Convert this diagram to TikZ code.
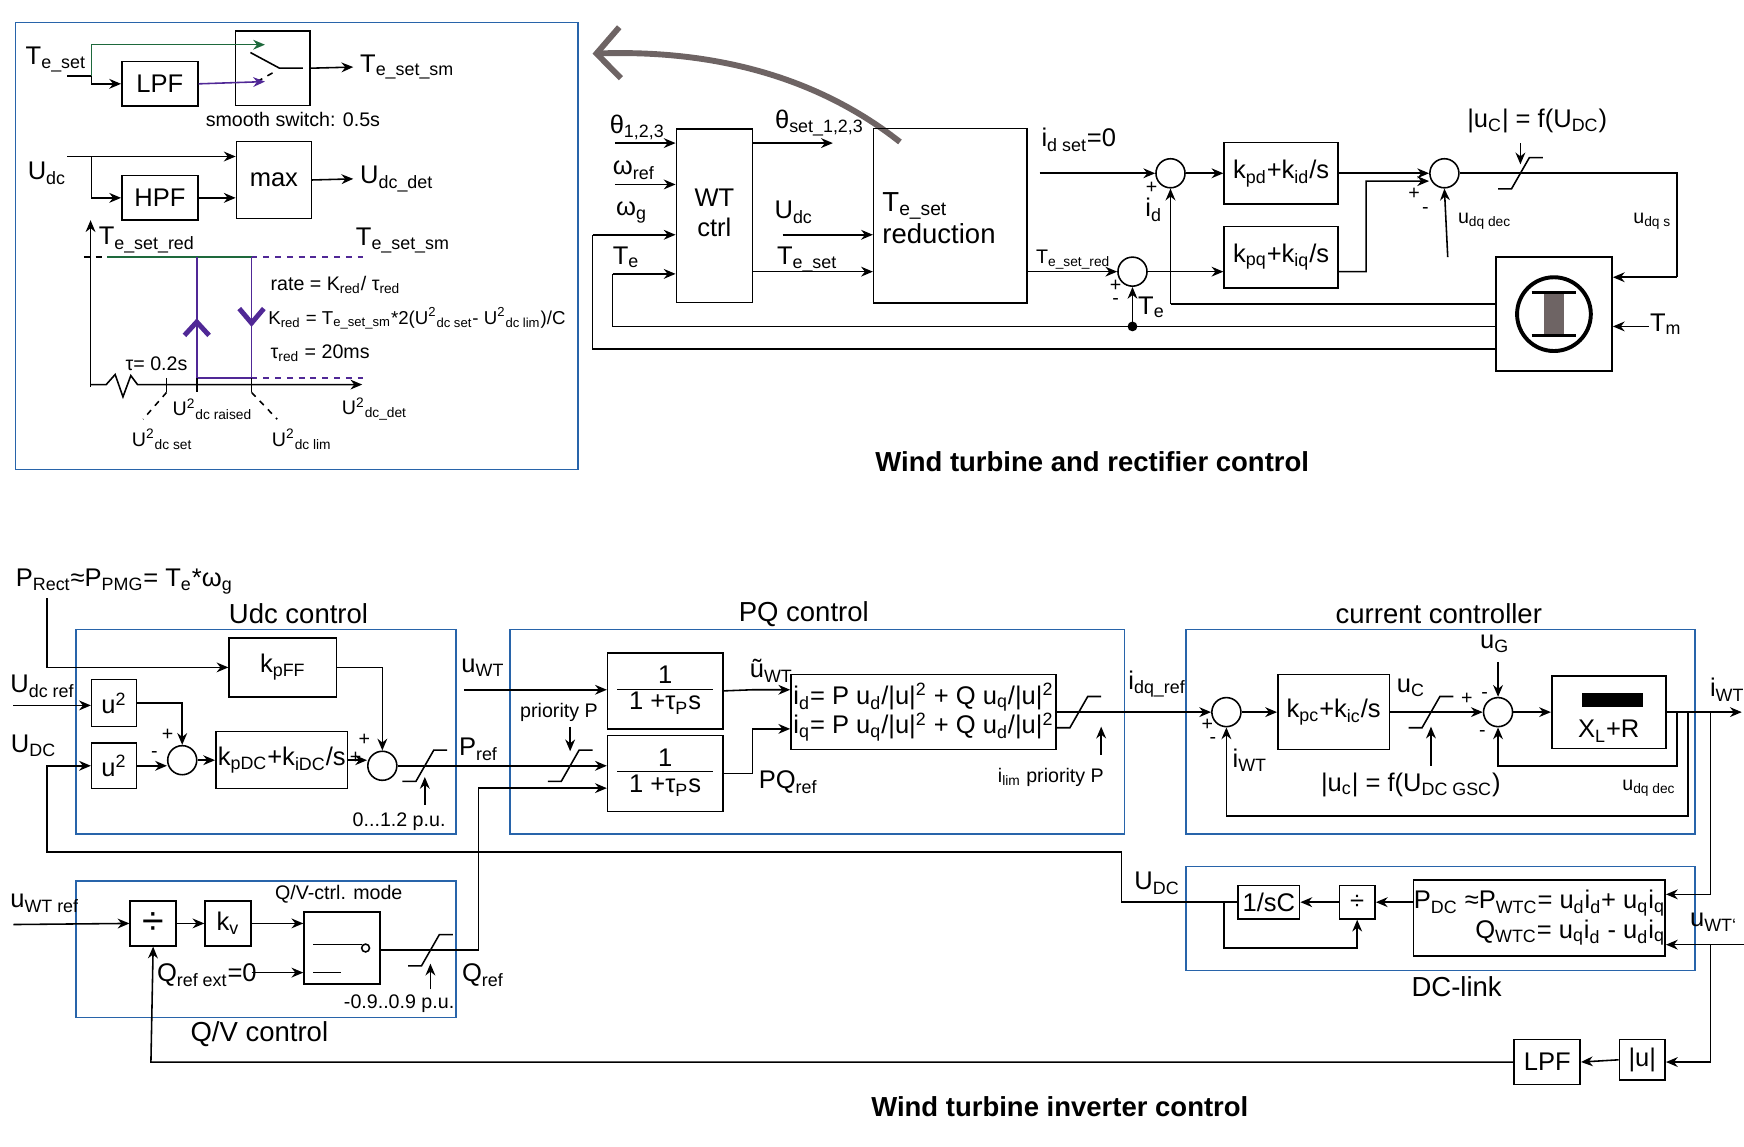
\documentclass[tikz,border=0pt]{standalone}
\usepackage{fontspec}
\setmainfont{Liberation Sans}
\usetikzlibrary{positioning,arrows.meta}
\definecolor{frameblue}{RGB}{40,100,170}
\definecolor{setgreen}{RGB}{30,105,60}
\definecolor{redpurple}{RGB}{80,40,150}
\definecolor{bigarrow}{RGB}{110,100,100}
\newcommand{\sub}[1]{\textsubscript{#1}}
\newcommand{\sups}[1]{\textsuperscript{#1}}
\begin{document}
\begin{tikzpicture}
        [x=0.02cm,y=-0.02cm,
        font=\fontsize{13}{15}\selectfont,
        box/.style 2 args={draw,thick,minimum width=#1*0.02cm,minimum height=#2*0.02cm,inner sep=1pt},
        sum/.style={draw,thick,circle,minimum size=0.52cm,inner sep=0pt},
        frame/.style={draw=frameblue,thick},
        line/.style={thick},
        arr/.style={thick,-{Stealth[length=6pt,width=5pt]}},
        small/.style={font=\fontsize{10}{12}\selectfont,inner sep=1pt},
        title/.style={font=\fontsize{14}{16}\selectfont\bfseries},
        head/.style={font=\fontsize{14}{16}\selectfont},
        sat/.pic={\draw[line] (-20,14) -- (-8,14) -- (8,-14) -- (20,-14);}]
        \useasboundingbox (0,0) rectangle (1560,1026);
        % ---------- smoothing and reduction of the torque set point
        \draw[frame] (14,20) rectangle (517,420);
        \node (tes) at (50,53) {T\sub{e\_set}};
        \node[box={68}{40}] (lpf) at (143,75) {LPF};
        \node[box={67}{67}] (sw) at (244,61) {};
        \draw[line] (224,47) -- (250,61) -- (271,61);
        \draw[line,dashed] (230,73) -- (246,64);
        \coordinate (j1) at (82,68);
        \draw[line] (60,68) -- (j1);
        \draw[arr] (j1) |- (lpf.west);
        \draw[arr,setgreen] (j1) |- (237,40);
        \draw[arr,redpurple] (lpf.east) -- (237,73);
        \node[anchor=west] (tesm) at (316,60) {T\sub{e\_set\_sm}};
        \draw[arr] (sw.east) -- (tesm.west);
        \node[small] (smsw) at (262,107) {smooth switch: 0.5s};
        \node (udc1) at (42,155) {U\sub{dc}};
        \node[box={68}{40}] (hpf) at (143,177) {HPF};
        \node[box={67}{69}] (mx) at (245,161) {max};
        \coordinate (j2) at (82,140);
        \draw[line] (60,140) -- (j2);
        \draw[arr] (j2) -- (mx.west |- j2);
        \draw[arr] (j2) |- (hpf.west);
        \draw[arr] (hpf.east) -- (mx.west |- hpf.east);
        \node[anchor=west] (udcd) at (316,160) {U\sub{dc\_det}};
        \draw[arr] (mx.east) -- (udcd.west);
        % reduction graph
        \draw[arr] (81,346) -- (81,197);
        \draw[arr] (81,344) -- (95,344) -- (103,335) -- (110,355) -- (117,336) -- (123,344) -- (324,344);
        \draw[line,dashed] (75,230) -- (96,230);
        \draw[line,setgreen] (96,230) -- (225,230);
        \draw[line,redpurple,dashed] (225,230) -- (326,230);
        \draw[line,redpurple] (176,230) -- (176,338) -- (225,338);
        \draw[line,redpurple] (225,230) -- (225,338);
        \draw[line,redpurple,dashed] (225,338) -- (326,338);
        \draw[redpurple,line width=2.5pt] (165,300) -- (176,288) -- (187,300);
        \draw[redpurple,line width=2.5pt] (214,276) -- (225,289) -- (236,276);
        \foreach \tx in {149,176,225} \draw[line] (\tx,338) -- (\tx,351);
        \draw[line,dashed] (149,351) -- (128,375);
        \draw[line,dashed] (225,351) -- (248,375);
        \node[anchor=west,inner sep=0pt] (lred) at (88,215) {T\sub{e\_set\_red}};
        \node[anchor=west,inner sep=0pt] (lsm) at (318,215) {T\sub{e\_set\_sm}};
        \node[small,anchor=west] (rate) at (240,255) {rate = K\sub{red}/ τ\sub{red}};
        \node[small,anchor=west,font=\fontsize{9.5}{11}\selectfont] (kred) at (238,285) {K\sub{red} = T\sub{e\_set\_sm}*2(U\sups{2}\sub{dc set}- U\sups{2}\sub{dc lim})/C};
        \node[small,anchor=west] (tred) at (240,316) {τ\sub{red} = 20ms};
        \node[small] (tau) at (140,325) {τ= 0.2s};
        \node[small] (uraised) at (190,366) {U\sups{2}\sub{dc raised}};
        \node[small] (uset) at (145,393) {U\sups{2}\sub{dc set}};
        \node[small] (ulim) at (270,393) {U\sups{2}\sub{dc lim}};
        \node[small] (udet) at (335,366) {U\sups{2}\sub{dc\_det}};
        % ---------- wind turbine and rectifier control
        \draw[bigarrow,line width=3pt,-{Straight Barb[length=12pt,width=26pt]}] (805,127) .. controls (720,60) and (620,45) .. (530,48);
        \node[box={68}{155}] (wt) at (639,193) {\begin{tabular}{c}WT\\ctrl\end{tabular}};
        \node[box={137}{156}] (red) at (850,193) {};
        \node[anchor=north west,head,align=left,inner sep=0pt] (redt) at (789,172) {T\sub{e\_set}\\reduction};
        \node (th) at (570,114) {θ\sub{1,2,3}};
        \node (wr) at (567,152) {ω\sub{ref}};
        \node (wg) at (565,190) {ω\sub{g}};
        \node (te1) at (560,230) {T\sub{e}};
        \draw[arr] (550,128) -- (wt.west |- 0,128);
        \draw[arr] (550,165) -- (wt.west |- 0,165);
        \draw[arr] (530,210) -- (wt.west |- 0,210);
        \draw[arr] (548,245) -- (wt.west |- 0,245);
        \draw[arr] (wt.east |- 0,128) -- (745,128);
        \node (ths) at (733,110) {θ\sub{set\_1,2,3}};
        \node (udc2) at (710,190) {U\sub{dc}};
        \draw[arr] (700,210) -- (red.west |- 0,210);
        \node (tes2) at (722,232) {T\sub{e\_set}};
        \draw[arr] (wt.east |- 0,243) -- (red.west |- 0,243);
        \node[sum] (s1) at (1013,243) {};
        \node[sum] (s2) at (1047,155) {};
        \node[sum] (s3) at (1292,155) {};
        \node[small] (tesr) at (960,232) {T\sub{e\_set\_red}};
        \draw[arr] (red.east |- s1) -- (s1.west);
        \node (ids) at (965,125) {i\sub{d set}=0};
        \draw[arr] (930,155) -- (s2.west);
        \node[box={102}{55}] (pid) at (1146,155) {k\sub{pd}+k\sub{id}/s};
        \node[box={102}{55}] (piq) at (1146,230) {k\sub{pq}+k\sub{iq}/s};
        \draw[arr] (s2.east) -- (pid.west);
        \draw[arr] (s1.east) -- (piq.west |- s1);
        \draw[arr] (pid.east) -- (s3.west);
        \draw[arr] (piq.east |- s1) -- (1222,243) -- (1222,162) -- ([yshift=-0.14cm]s3.west);
        \node[box={104}{102}] (pmg) at (1390,281) {};
        \draw[line width=2pt] (pmg.center) circle[radius=0.66cm];
        \fill[bigarrow] (1381,262) rectangle (1399,300);
        \draw[line width=1.5pt] (1370,262) -- (1410,262) (1370,300) -- (1410,300);
        \draw[arr] (1047,272) -- (s2.south);
        \draw[line] (pmg.west |- 0,272) -- (1047,272);
        \coordinate (jte) at (1013,292);
        \fill (jte) circle[radius=2.5pt];
        \draw[arr] (jte) -- (s1.south);
        \draw[line] (pmg.west |- jte) -- (548,292) -- (548,245);
        \draw[line] (pmg.west |- 0,312) -- (530,312) -- (530,210);
        \draw[arr] (1295,230) -- (s3.south);
        \pic at (1360,155) {sat};
        \draw[line] (s3.east) -- (1500,155) -- (1500,248);
        \draw[arr] (1500,248) -- (pmg.east |- 0,248);
        \draw[arr] (1360,128) -- (1360,147);
        \node (uc1) at (1375,108) {|u\sub{C}| = f(U\sub{DC})};
        \node[small] at (1030,168) {+};
        \node (idl) at (1032,188) {i\sub{d}};
        \node[small] at (998,256) {+};
        \node[small] at (998,270) {-};
        \node[inner sep=1pt] (te2) at (1030,275) {T\sub{e}};
        \node[small] at (1265,173) {+};
        \node[small] at (1275,188) {-};
        \node[small] (udqd1) at (1328,198) {u\sub{dq dec}};
        \node[small] (udqs) at (1478,198) {u\sub{dq s}};
        \node (tm) at (1490,290) {T\sub{m}};
        \draw[arr] (1475,292) -- (pmg.east |- 0,292);
        \node[title] at (977,413) {Wind turbine and rectifier control};
        % ---------- Udc control
        \draw[frame] (68,563) rectangle (408,746);
        \node[head] at (267,549) {Udc control};
        \node[anchor=west] (prect) at (8,520) {P\sub{Rect}≈P\sub{PMG}= T\sub{e}*ω\sub{g}};
        \node[box={96}{53}] (kff) at (253,597) {k\sub{pFF}};
        \draw[arr] (42,535) -- (42,597) -- (kff.west);
        \node[box={40}{42}] (sq1) at (102,629) {u\sups{2}};
        \node[box={40}{41}] (sq2) at (102,685) {u\sups{2}};
        \node (udcr) at (38,614) {U\sub{dc ref}};
        \node (udcb) at (30,667) {U\sub{DC}};
        \draw[arr] (12,631) -- (sq1.west |- 0,631);
        \node[sum] (s4) at (163,680) {};
        \node[sum] (s5) at (342,685) {};
        \draw[arr] (sq1.east) -| (s4.north);
        \draw[arr] (sq2.east) -- (s4.west |- sq2.east);
        \node[box={95}{51}] (pidc) at (252,680) {k\sub{pDC}+k\sub{iDC}/s};
        \draw[arr] (s4.east) -- (pidc.west);
        \draw[arr] (pidc.east) -- (s5.west |- pidc.east);
        \draw[arr] (kff.east) -| (s5.north);
        \node[small] at (150,657) {+};
        \node[small] at (138,675) {-};
        \node[small] at (326,662) {+};
        \node[small] at (318,678) {+};
        \pic at (380,685) {sat};
        \draw[arr] (380,720) -- (380,695);
        \node[small] (r1) at (357,735) {0...1.2 p.u.};
        \node (pref) at (428,670) {P\sub{ref}};
        % ---------- PQ control
        \draw[frame] (456,563) rectangle (1006,746);
        \node[head] at (719,549) {PQ control};
        \node[box={103}{68}] (lp1) at (595,618) {\begin{tabular}{c}1\\[-2pt]\hline 1 +τ\sub{P}s\end{tabular}};
        \node[box={103}{68}] (lp2) at (595,692) {\begin{tabular}{c}1\\[-2pt]\hline 1 +τ\sub{P}s\end{tabular}};
        \node (uwt) at (432,597) {u\sub{WT}};
        \draw[arr] (415,617) -- (lp1.west |- 0,617);
        \draw[arr] (s5.east) -- (lp2.west |- s5.east);
        \pic at (510,685) {sat};
        \draw[arr] (510,650) -- (510,672);
        \node[small] (prio1) at (500,637) {priority P};
        \node[box={237}{67}] (frm) at (826,637) {};
        \node[align=left,inner sep=0pt] (frmt) at (826,637) {i\sub{d}= P u\sub{d}/|u|\sups{2} + Q u\sub{q}/|u|\sups{2}\\i\sub{q}= P u\sub{q}/|u|\sups{2} + Q u\sub{d}/|u|\sups{2}};
        \draw[arr] (lp1.east) -- (673,617) -- (frm.west |- 0,617);
        \draw[arr] (lp2.east) -- (673,692) -- (673,652) -- (frm.west |- 0,652);
        \node (uwtt) at (690,600) {\~{u}\sub{WT}};
        \node (pqr) at (705,700) {PQ\sub{ref}};
        \pic at (965,637) {sat};
        \draw[arr] (985,675) -- (985,650);
        \node[small] (ilim) at (940,695) {i\sub{lim} priority P};
        \node (idq) at (1035,612) {i\sub{dq\_ref}};
        % ---------- current controller
        \draw[frame] (1061,563) rectangle (1516,746);
        \node[head] at (1287,549) {current controller};
        \node[sum] (s6) at (1097,637) {};
        \node[sum] (s7) at (1340,637) {};
        \draw[arr] (frm.east) -- (s6.west);
        \node[box={100}{67}] (pic) at (1193,637) {k\sub{pc}+k\sub{ic}/s};
        \draw[arr] (s6.east) -- (pic.west);
        \pic at (1280,637) {sat};
        \draw[arr] (pic.east) -- (s7.west);
        \draw[arr] (1280,685) -- (1280,650);
        \node (ucl) at (1262,615) {u\sub{C}};
        \node (ucf) at (1262,702) {|u\sub{c}| = f(U\sub{DC GSC})};
        \node (ug) at (1337,576) {u\sub{G}};
        \draw[arr] (1340,592) -- (s7.north);
        \node[box={102}{65}] (xlr) at (1439,637) {};
        \fill (1415,620) rectangle (1470,632);
        \node (xlrt) at (1439,654) {X\sub{L}+R};
        \draw[arr] (s7.east) -- (xlr.west);
        \draw[line] (xlr.east) -- (1530,637);
        \draw[arr] (1530,637) -- (1558,637);
        \node (iwt1) at (1545,617) {i\sub{WT}};
        \draw[arr] (1500,637) -- (1500,685) -- (1340,685) -- (s7.south);
        \draw[arr] (1510,637) -- (1510,730) -- (1097,730) -- (s6.south);
        \node (iwt2) at (1118,680) {i\sub{WT}};
        \node[small] at (1080,648) {+};
        \node[small] at (1085,662) {-};
        \node[small] at (1312,625) {+};
        \node[small] at (1328,622) {-};
        \node[small] at (1326,656) {-};
        \node[small] (udqd2) at (1475,705) {u\sub{dq dec}};
        % ---------- DC-link
        \draw[frame] (1061,775) rectangle (1516,868);
        \node[head] at (1303,883) {DC-link};
        \node[box={55}{30}] (isc) at (1135,807) {1/sC};
        \node[box={32}{30}] (dv1) at (1214,807) {÷};
        \node[box={225}{68}] (pdc) at (1377,821) {};
        \node[align=right,inner sep=0pt] (pdct) at (1377,821) {P\sub{DC} ≈P\sub{WTC}= u\sub{d}i\sub{d}+ u\sub{q}i\sub{q}\\Q\sub{WTC}= u\sub{q}i\sub{d} - u\sub{d}i\sub{q}};
        \draw[arr] (pdc.west |- dv1) -- (dv1.east);
        \draw[arr] (dv1.west) -- (isc.east);
        \draw[arr] (1095,807) -- (1095,848) -- (1214,848) -- (dv1.south);
        \draw[arr] (1530,637) -- (1530,800) -- (pdc.east |- 0,800);
        \draw[arr] (1560,845) -- (pdc.east |- 0,845);
        \node[anchor=east] (uwt2) at (1560,825) {u\sub{WT`}};
        \node (udc3) at (1035,790) {U\sub{DC}};
        \draw[arr] (isc.west) -- (1003,807) -- (1003,762) -- (42,762) -- (42,685) -- (sq2.west);
        % ---------- Q/V control
        \draw[frame] (68,788) rectangle (408,910);
        \node[head] at (232,925) {Q/V control};
        \node[small] (qvm) at (303,800) {Q/V-ctrl. mode};
        \node (uwtr) at (40,808) {u\sub{WT ref}};
        \node[box={41}{40}] (dv2) at (137,826) {\fontsize{20}{20}\selectfont ÷};
        \node[box={41}{40}] (kv) at (204,826) {k\sub{v}};
        \node[box={68}{64}] (qsw) at (306,848) {};
        \draw[line] (280,845) -- (324,845);
        \draw[line] (327,848) circle[radius=2pt];
        \draw[line] (280,870) -- (305,870);
        \draw[arr] (12,827) -- (dv2.west);
        \draw[arr] (dv2.east) -- (kv.west);
        \draw[arr] (kv.east) -- (qsw.west |- kv.east);
        \node (qre) at (185,872) {Q\sub{ref ext}=0};
        \draw[arr] (225,870) -- (qsw.west |- 0,870);
        \pic at (385,850) {sat};
        \draw[arr] (385,885) -- (385,862);
        \node[small] (r2) at (357,898) {-0.9..0.9 p.u.};
        \draw[arr] (qsw.east |- 0,850) -- (428,850) -- (428,705) -- (lp2.west |- 0,705);
        \node (qref) at (432,872) {Q\sub{ref}};
        % ---------- |u| and LPF
        \node[box={41}{36}] (abu) at (1469,948) {|u|};
        \node[box={59}{40}] (lpf2) at (1384,950) {LPF};
        \draw[arr] (1530,845) -- (1530,950) -- (abu.east |- 0,950);
        \draw[arr] (abu.west) -- (lpf2.east);
        \draw[arr] (lpf2.west) -- (135,950) -- (dv2.south);
        \node[title] at (948,990) {Wind turbine inverter control};
    \end{tikzpicture}
\end{document}
